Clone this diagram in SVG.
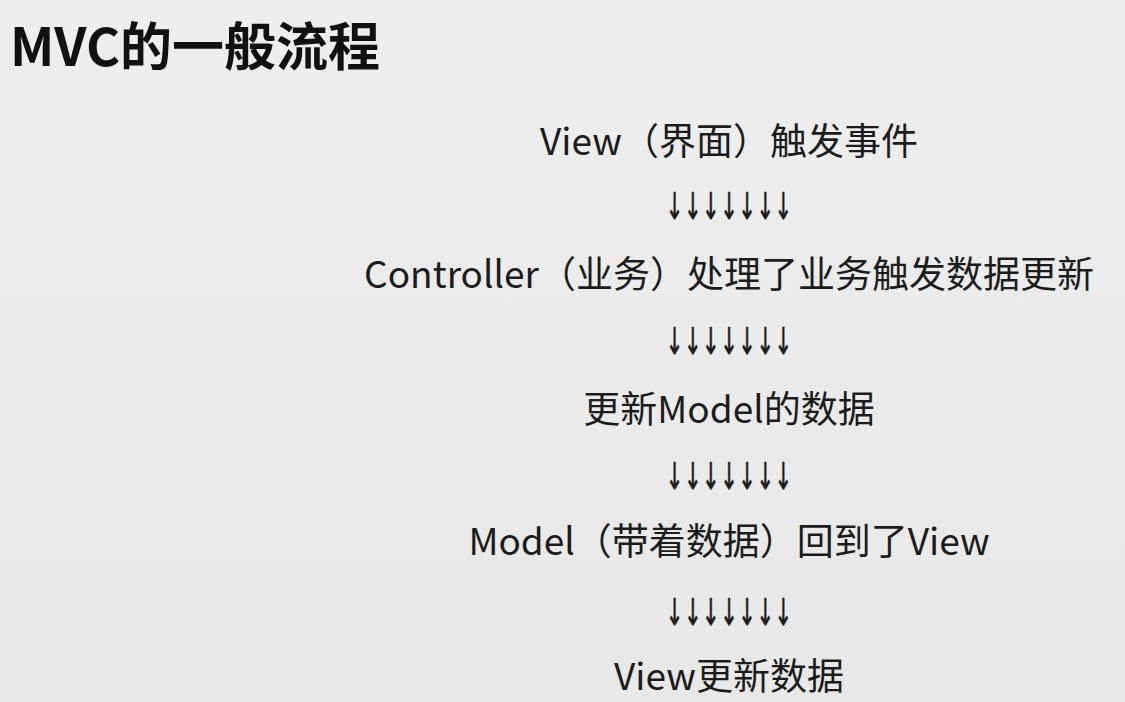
<svg xmlns="http://www.w3.org/2000/svg" width="1125" height="702" viewBox="0 0 1125 702">
<defs>
<linearGradient id="bg" x1="0" y1="0" x2="0" y2="1">
<stop offset="0" stop-color="#eeeeee"/>
<stop offset="1" stop-color="#e8e8e8"/>
</linearGradient>
</defs>
<style>
.t{font-family:"Noto Sans CJK SC","Noto Sans",sans-serif;fill:#1c1c1c;font-size:37px;text-anchor:middle}
.a{font-family:"DejaVu Sans",sans-serif;fill:#1c1c1c;stroke:#1c1c1c;stroke-width:0.6;font-size:37px;text-anchor:middle}
.h{font-family:"Noto Sans CJK SC","Noto Sans",sans-serif;fill:#111;font-size:52px;font-weight:bold}
</style>
<rect width="1125" height="702" fill="url(#bg)"/>
<g id="title"><text class="h" x="10" y="66">MVC的一般流程</text></g>
<g id="step1"><text class="t" x="729" y="155">View（界面）触发事件</text></g>
<g id="step2"><text class="t" x="729" y="288">Controller（业务）处理了业务触发数据更新</text></g>
<g id="step3"><text class="t" x="729" y="423">更新Model的数据</text></g>
<g id="step4"><text class="t" x="729" y="555">Model（带着数据）回到了View</text></g>
<g id="step5"><text class="t" x="729" y="690">View更新数据</text></g>
<g id="connectors">
<text class="a" x="729" y="219" textLength="127" lengthAdjust="spacingAndGlyphs">↓↓↓↓↓↓↓</text>
<text class="a" x="729" y="354" textLength="127" lengthAdjust="spacingAndGlyphs">↓↓↓↓↓↓↓</text>
<text class="a" x="729" y="489" textLength="127" lengthAdjust="spacingAndGlyphs">↓↓↓↓↓↓↓</text>
<text class="a" x="729" y="625" textLength="127" lengthAdjust="spacingAndGlyphs">↓↓↓↓↓↓↓</text>
</g>
</svg>
